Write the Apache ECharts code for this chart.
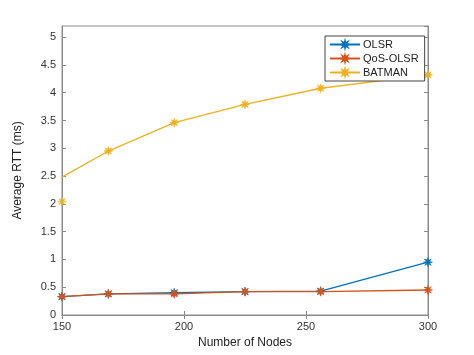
<!DOCTYPE html>
<html><head><meta charset="utf-8">
<script src="https://cdn.jsdelivr.net/npm/echarts@6/dist/echarts.min.js"></script>
<style>html,body{margin:0;padding:0;background:#fff}#c{width:474px;height:355px}</style>
</head><body><div id="c"></div>
<script>
const nodes = [150, 169, 196, 225, 256, 300];
const olsr = [0.33, 0.38, 0.40, 0.42, 0.43, 0.95];
const qosOlsr = [0.33, 0.38, 0.38, 0.42, 0.42, 0.45];
const batman = [2.48, 2.95, 3.46, 3.79, 4.08, 4.32];
const batmanExtra = [[150, 2.04]];
const xTicks = [150, 200, 250, 300];
const seriesNames = ['OLSR', 'QoS-OLSR', 'BATMAN'];
const colors = ['#0072BD', '#D95319', '#EDB120'];

function star() {
  let d = '';
  for (let i = 0; i < 16; i++) {
    const a = Math.PI * i / 8 - Math.PI / 2;
    const r = i % 2 === 0 ? 10 : 4;
    const x = 10 + r * Math.cos(a), y = 10 + r * Math.sin(a);
    d += (i === 0 ? 'M' : 'L') + x.toFixed(2) + ' ' + y.toFixed(2);
  }
  return 'path://' + d + 'Z';
}
const sym = star();
const zip = (ys) => nodes.map((x, i) => [x, ys[i]]);
const batData = zip(batman).map((p, i) => i === 0 ? {value: p, symbol: 'none'} : p);

const axisGrey = '#8a8a8a';
const textCol = '#333';
const chart = echarts.init(document.getElementById('c'));
const mk = (c) => ({color: c, borderColor: c, borderWidth: 0.6});
chart.setOption({
  animation: false,
  color: colors,
  grid: {left: 62, right: 46, top: 26, bottom: 40, show: true, borderColor: axisGrey, borderWidth: 1},
  legend: {
    data: seriesNames, left: 325, top: 36, orient: 'vertical',
    backgroundColor: '#fff', borderColor: '#444', borderWidth: 1,
    padding: [3, 6, 3, 4], itemGap: 3, itemWidth: 30, itemHeight: 7,
    textStyle: {fontFamily: 'Liberation Sans', fontSize: 11, color: '#222', padding: [0,0,0,-2]}
  },
  xAxis: [{
    type: 'value', min: 150, max: 300, interval: 50,
    name: 'Number of Nodes', nameLocation: 'middle', nameGap: 19,
    nameTextStyle: {fontFamily: 'Liberation Sans', fontSize: 12, color: '#222'},
    axisLine: {show: true, lineStyle: {color: axisGrey}},
    axisTick: {show: true, inside: true, length: 4, lineStyle: {color: axisGrey}},
    axisLabel: {fontFamily: 'Liberation Sans', fontSize: 11, color: textCol, margin: 6},
    splitLine: {show: false}
  }, {
    type: 'value', min: 150, max: 300, interval: 50, position: 'top',
    axisLine: {show: true, lineStyle: {color: axisGrey}},
    axisTick: {show: true, inside: true, length: 4, lineStyle: {color: axisGrey}},
    axisLabel: {show: false}, splitLine: {show: false}
  }],
  yAxis: [{
    type: 'value', min: 0, max: 5.2, interval: 0.5,
    name: 'Average RTT (ms)', nameLocation: 'middle', nameGap: 38, nameRotate: 90,
    nameTextStyle: {fontFamily: 'Liberation Sans', fontSize: 12, color: '#222'},
    axisLine: {show: true, lineStyle: {color: axisGrey}},
    axisTick: {show: true, inside: true, length: 4, lineStyle: {color: axisGrey}},
    axisLabel: {fontFamily: 'Liberation Sans', fontSize: 11, color: textCol, margin: 6, showMaxLabel: false},
    splitLine: {show: false}
  }, {
    type: 'value', min: 0, max: 5.2, interval: 0.5, position: 'right',
    axisLine: {show: true, lineStyle: {color: axisGrey}},
    axisTick: {show: true, inside: true, length: 4, lineStyle: {color: axisGrey}},
    axisLabel: {show: false}, splitLine: {show: false}
  }],
  series: [
    {name: seriesNames[0], type: 'line', data: zip(olsr), symbol: sym, symbolSize: 9,
     lineStyle: {width: 1.3, color: colors[0]}, itemStyle: mk(colors[0])},
    {name: seriesNames[1], type: 'line', data: zip(qosOlsr), symbol: sym, symbolSize: 9,
     lineStyle: {width: 1.3, color: colors[1]}, itemStyle: mk(colors[1])},
    {name: seriesNames[2], type: 'line', data: batData, symbol: sym, symbolSize: 9,
     lineStyle: {width: 1.3, color: colors[2]}, itemStyle: mk(colors[2])},
    {name: seriesNames[2] + '_pt', type: 'scatter', data: batmanExtra, symbol: sym, symbolSize: 9,
     itemStyle: mk(colors[2])}
  ]
});
</script></body></html>
